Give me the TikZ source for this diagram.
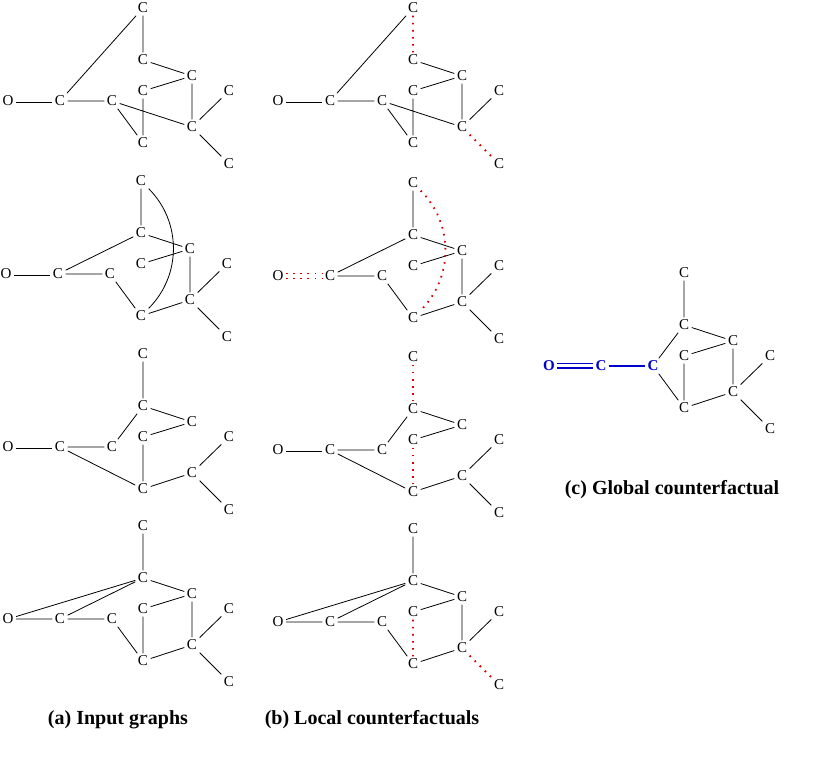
\documentclass[tikz,border=0pt]{standalone}
\usepackage{fontspec}
\setmainfont{Liberation Serif}
\begin{document}
\begin{tikzpicture}[x=1pt,y=-1pt,
  atm/.style={inner sep=2.5pt,font=\fontsize{15}{15}\selectfont},
  bd/.style={line width=0.8pt},
  dbl/.style={line width=0.8pt,double,double distance=3pt},
  rd/.style={red!85!black,line width=1.8pt,dash pattern=on 1.6pt off 5.5pt},
  bl/.style={blue!80!black,line width=2pt},
  captext/.style={font=\fontsize{20}{20}\selectfont\bfseries}]
\useasboundingbox (0,0) rectangle (820,767);
\newcommand\mol[3]{%
  \node[atm] (#1o) at (#2,#3) {O};
  \node[atm] (#1a) at (#2+52,#3) {C};
  \node[atm] (#1b) at (#2+104,#3) {C};
  \node[atm] (#1t) at (#2+135,#3-93) {C};
  \node[atm] (#1u) at (#2+135,#3-41) {C};
  \node[atm] (#1r) at (#2+184,#3-25) {C};
  \node[atm] (#1i) at (#2+135,#3-10) {C};
  \node[atm] (#1s) at (#2+184,#3+26) {C};
  \node[atm] (#1l) at (#2+135,#3+42) {C};
  \node[atm] (#1p) at (#2+221,#3-10) {C};
  \node[atm] (#1q) at (#2+221,#3+63) {C};}
% row 1
\mol{A}{8}{101}
\draw[dbl] (Ao)--(Aa); \draw[bd] (Aa)--(Ab) (At)--(Aa) (At)--(Au) (Au)--(Ar) (Ai)--(Ar) (Ar)--(As) (Ab)--(As) (Ab)--(Al) (Ai)--(Al) (As)--(Ap) (As)--(Aq);
\mol{B}{278}{101}
\draw[dbl] (Bo)--(Ba); \draw[bd] (Ba)--(Bb) (Bt)--(Ba) (Bu)--(Br) (Bi)--(Br) (Br)--(Bs) (Bb)--(Bs) (Bb)--(Bl) (Bi)--(Bl) (Bs)--(Bp);
\draw[rd] (Bt)--(Bu) (Bs)--(Bq);
% row 2
\mol{C}{6}{274}
\draw[dbl] (Co)--(Ca); \draw[bd] (Ca)--(Cb) (Ca)--(Cu) (Ct)--(Cu) (Cu)--(Cr) (Ci)--(Cr) (Cr)--(Cs) (Cb)--(Cl) (Cl)--(Cs) (Cs)--(Cp) (Cs)--(Cq);
\draw[bd] (Ct) to[bend left=45] (Cl);
\mol{D}{278}{276}
\draw[rd] ([yshift=-2.5pt]Do.east)--([yshift=-2.5pt]Da.west) ([yshift=2.5pt]Do.east)--([yshift=2.5pt]Da.west);
\draw[bd] (Da)--(Db) (Da)--(Du) (Dt)--(Du) (Du)--(Dr) (Di)--(Dr) (Dr)--(Ds) (Db)--(Dl) (Dl)--(Ds) (Ds)--(Dp) (Ds)--(Dq);
\draw[rd] (Dt) to[bend left=45] (Dl);
% row 3
\mol{E}{8}{447}
\draw[dbl] (Eo)--(Ea); \draw[bd] (Ea)--(Eb) (Eb)--(Eu) (Et)--(Eu) (Eu)--(Er) (Ei)--(Er) (Ei)--(El) (Ea)--(El) (El)--(Es) (Es)--(Ep) (Es)--(Eq);
\mol{F}{278}{450}
\draw[dbl] (Fo)--(Fa); \draw[bd] (Fa)--(Fb) (Fb)--(Fu) (Fu)--(Fr) (Fi)--(Fr) (Fa)--(Fl) (Fl)--(Fs) (Fs)--(Fp) (Fs)--(Fq);
\draw[rd] (Ft)--(Fu) (Fi)--(Fl);
% row 4
\mol{G}{8}{619}
\draw[bd] (Go)--(Ga) (Go)--(Gu) (Ga)--(Gu) (Ga)--(Gb) (Gt)--(Gu) (Gu)--(Gr) (Gi)--(Gr) (Gr)--(Gs) (Gb)--(Gl) (Gi)--(Gl) (Gl)--(Gs) (Gs)--(Gp) (Gs)--(Gq);
\mol{H}{278}{622}
\draw[bd] (Ho)--(Ha) (Ho)--(Hu) (Ha)--(Hu) (Ha)--(Hb) (Ht)--(Hu) (Hu)--(Hr) (Hi)--(Hr) (Hr)--(Hs) (Hb)--(Hl) (Hl)--(Hs) (Hs)--(Hp);
\draw[rd] (Hi)--(Hl) (Hs)--(Hq);
% global
\mol{K}{549}{366}
\node[atm,text=blue!80!black,font=\fontsize{15}{15}\selectfont\bfseries,fill=white] at (Ko) {O};
\node[atm,text=blue!80!black,font=\fontsize{15}{15}\selectfont\bfseries,fill=white] at (Ka) {C};
\node[atm,text=blue!80!black,font=\fontsize{15}{15}\selectfont\bfseries,fill=white] at (Kb) {C};
\draw[bl,double,double distance=3pt,line width=1.6pt] (Ko)--(Ka); \draw[bl] (Ka)--(Kb);
\draw[bd] (Kb)--(Ku) (Kb)--(Kl) (Kt)--(Ku) (Ku)--(Kr) (Ki)--(Kr) (Ki)--(Kl) (Kl)--(Ks) (Kr)--(Ks) (Ks)--(Kp) (Ks)--(Kq);
% captions
\node[captext] (ca) at (118,720) {(a) Input graphs};
\node[captext] (cb) at (372,720) {(b) Local counterfactuals};
\node[captext] (cc) at (672,490) {(c) Global counterfactual};
\end{tikzpicture}
\end{document}
